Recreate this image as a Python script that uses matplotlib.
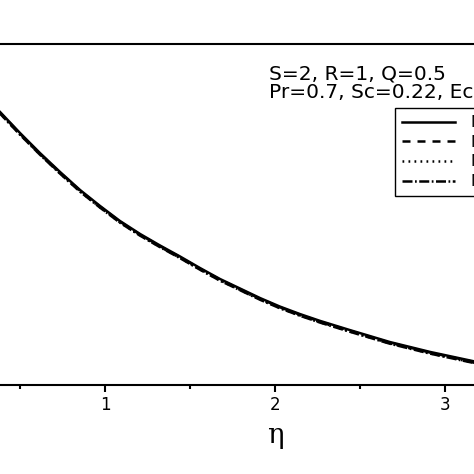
import matplotlib
matplotlib.use("Agg")
import matplotlib.pyplot as plt

eta = [0.30, 0.382, 0.500, 0.618, 0.735, 0.853, 0.971, 1.088, 1.206, 1.324, 1.441, 1.559,
       1.676, 1.794, 1.912, 2.029, 2.147, 2.265, 2.441, 2.676, 2.912, 3.165, 3.25]
theta1 = [0.840, 0.801, 0.739, 0.680, 0.625, 0.572, 0.525, 0.481, 0.443, 0.409, 0.377, 0.343,
          0.311, 0.283, 0.255, 0.230, 0.208, 0.188, 0.161, 0.126, 0.097, 0.070, 0.062]
theta2 = [v - 0.002 for v in theta1]
theta3 = [v - 0.004 for v in theta1]
theta4 = [v - 0.005 for v in theta1]
labels = ["Nt=0.1", "Nt=0.3", "Nt=0.5", "Nt=0.7"]
xticks_major = [0, 1, 2, 3, 4]
xticks_minor = [0.5, 1.5, 2.5, 3.5]
param_text = "S=2, R=1, Q=0.5\nPr=0.7, Sc=0.22, Ec=0.1"

plt.rcParams['font.family'] = ['DejaVu Sans']

fig = plt.figure(figsize=(4.74, 4.74), dpi=100)
W = H = 474.0
left_px, right_px, top_px, bottom_px = -65.0, 615.0, 44.0, 385.0
ax = fig.add_axes([left_px / W, 1 - bottom_px / H, (right_px - left_px) / W, (bottom_px - top_px) / H])

lw = 1.8
ax.plot(eta, theta1, color='black', lw=lw, ls='-', label=labels[0])
ax.plot(eta, theta2, color='black', lw=lw, ls=(0, (3.2, 2.8)), label=labels[1])
ax.plot(eta, theta3, color='black', lw=lw, ls=(0, (0.7, 1.7)), label=labels[2])
ax.plot(eta, theta4, color='black', lw=lw, ls=(0, (4.0, 1.0, 0.7, 1.0)), label=labels[3])

ax.set_xlim(0, 4)
ax.set_ylim(0, 1)
ax.set_xticks(xticks_major)
ax.set_xticks(xticks_minor, minor=True)
ax.set_xticklabels([str(t) for t in xticks_major], fontsize=12)
ax.set_yticks([])
ax.tick_params(axis='x', which='major', direction='out', length=5, width=1.5, pad=3, top=False)
ax.tick_params(axis='x', which='minor', direction='out', length=3, width=1.5, top=False)
for s in ax.spines.values():
    s.set_linewidth(1.5)

ax.set_xlabel("η", fontsize=20, family=['DejaVu Serif'], labelpad=6)

fig.text(269 / W, 1 - 97.5 / H, param_text, fontsize=14.5, va='baseline', ha='left',
         linespacing=0.95)

leg = ax.legend(loc='upper left', bbox_to_anchor=(395 / W, 1 - 108 / H), bbox_transform=fig.transFigure,
                fontsize=11, frameon=True, fancybox=False, edgecolor='black', framealpha=1,
                handlelength=3.5, handletextpad=1.0, labelspacing=0.31, borderpad=0.45, borderaxespad=0)
leg.get_frame().set_linewidth(1.0)

fig.savefig("out.png", dpi=100)
